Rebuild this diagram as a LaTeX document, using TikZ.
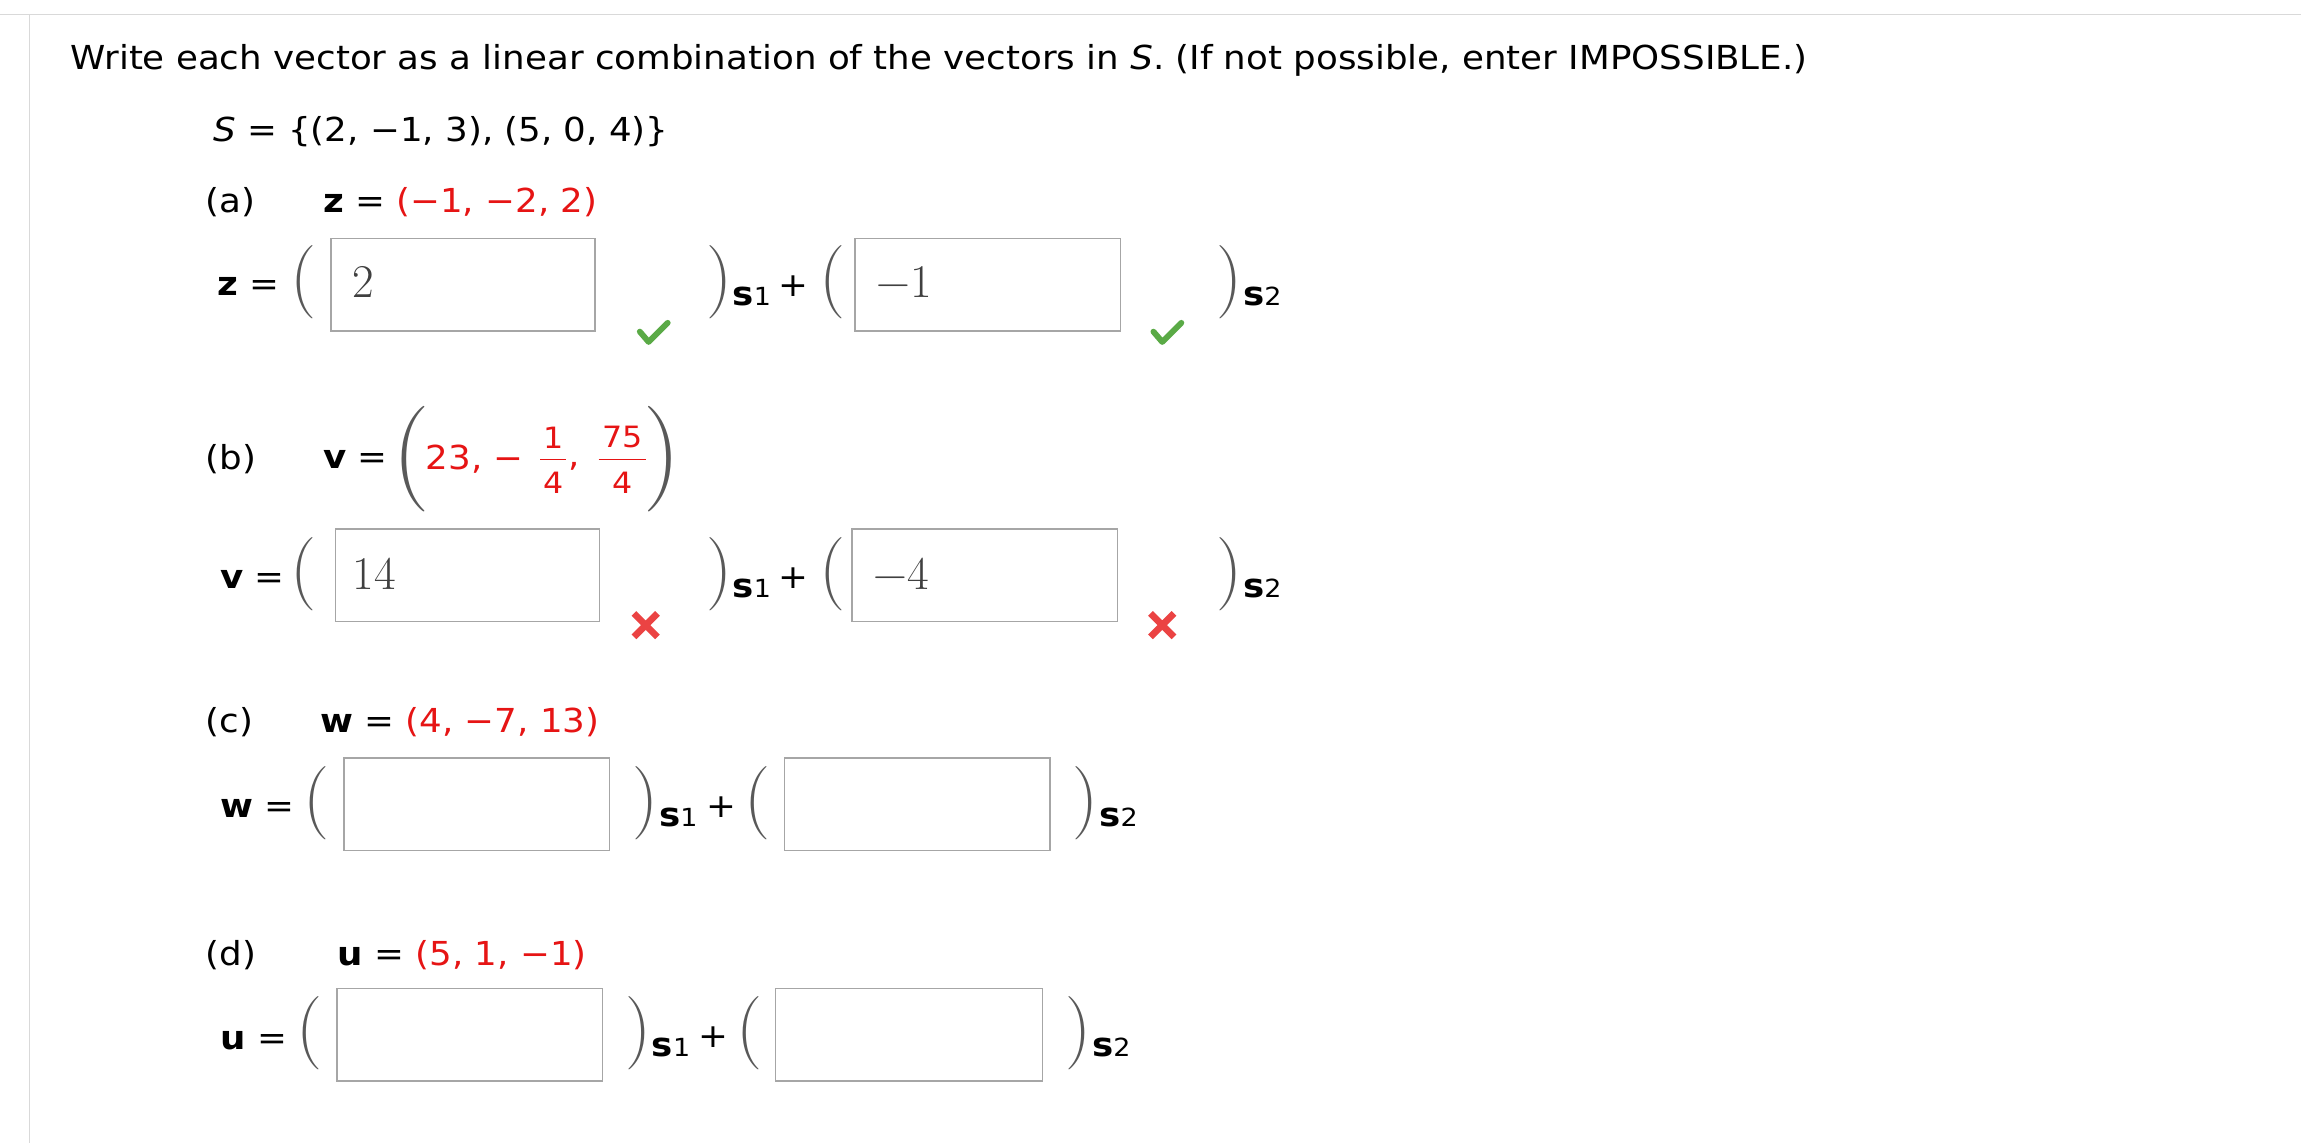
\documentclass[tikz,border=0pt]{standalone}
\usepackage{fontspec}
\setmainfont{DejaVu Sans}[FakeStretch=1.08]
\newfontfamily\numf{Latin Modern Roman}
\definecolor{ansred}{RGB}{230,20,20}
\definecolor{okgreen}{RGB}{90,170,70}
\begin{document}
\begin{tikzpicture}[x=1pt,y=-1pt,
  txt/.style={anchor=west,inner sep=0pt,font=\fontsize{22.5}{26}\selectfont},
  red/.style={txt,text=ansred},
  ansbox/.style={draw=gray!70,line width=1pt,anchor=north west,inner sep=0pt},
  val/.style={anchor=west,inner sep=0pt,font=\numf\fontsize{32}{36}\selectfont,text=black!75},
  bigp/.style={anchor=center,inner sep=0pt,font=\numf\fontsize{50}{54}\selectfont,text=black!65}]
\useasboundingbox (0,0) rectangle (1568,779);
\fill[white] (0,0) rectangle (1568,779);
\draw[gray!30,line width=1pt] (0,10) -- (1568,10);
\draw[gray!30,line width=1pt] (20,10) -- (20,779);
\node[txt] (title) at (48,41) {Write each vector as a linear combination of the vectors in \textit{S}. (If not possible, enter IMPOSSIBLE.)};
\node[txt] (S) at (145,90) {\textit{S} = \{(2, \textminus1, 3), (5, 0, 4)\}};
% (a)
\node[txt] (la) at (140,138) {(a)};
\node[txt] (za) at (220,138) {\textbf{z} = \textcolor{ansred}{(\textminus1, \textminus2, 2)}};
\node[txt] (za2) at (148,195) {\textbf{z} =};
\node[bigp] (pa1) at (207,192) {(};
\node[ansbox,minimum width=180pt,minimum height=63pt] (ba1) at (225,162) {};
\node[val] at (240,192) {2};
\node[bigp] (pa2) at (490,192) {)};
\node[txt] at (499,202) {\textbf{s}{\fontsize{17}{20}\selectfont 1}};
\node[txt] at (530,195) {+};
\node[bigp] (pa3) at (567,192) {(};
\node[ansbox,minimum width=181pt,minimum height=63pt] (ba2) at (582,162) {};
\node[val] at (597,192) {\textminus1};
\node[bigp] (pa4) at (838,192) {)};
\node[txt] at (847,202) {\textbf{s}{\fontsize{17}{20}\selectfont 2}};
\foreach \cx in {445,795}{
  \draw[okgreen,line width=4pt,line cap=round,line join=round] (\cx-9,226) -- (\cx-3,233) -- (\cx+10,220);}
% (b)
\node[txt] (lb) at (140,313) {(b)};
\node[txt] (vb) at (220,313) {\textbf{v} =};
\node[bigp,font=\numf\fontsize{72}{76}\selectfont] at (280,313) {(};
\node[red] at (290,313) {23, \textminus};
\node[red,anchor=center,font=\fontsize{20}{23}\selectfont] at (377,298) {1};
\draw[ansred,line width=1pt] (368,313) -- (386,313);
\node[red,anchor=center,font=\fontsize{20}{23}\selectfont] at (377,329) {4};
\node[red] at (387,318) {,};
\node[red,anchor=center,font=\fontsize{20}{23}\selectfont] at (424,298) {75};
\draw[ansred,line width=1pt] (408,313) -- (440,313);
\node[red,anchor=center,font=\fontsize{20}{23}\selectfont] at (424,329) {4};
\node[bigp,font=\numf\fontsize{72}{76}\selectfont] at (451,313) {)};
\node[txt] (vb2) at (150,395) {\textbf{v} =};
\node[bigp] at (207,391) {(};
\node[ansbox,minimum width=180pt,minimum height=63pt] (bb1) at (228,360) {};
\node[val] at (240,391) {14};
\node[bigp] at (490,391) {)};
\node[txt] at (499,401) {\textbf{s}{\fontsize{17}{20}\selectfont 1}};
\node[txt] at (530,394) {+};
\node[bigp] at (567,391) {(};
\node[ansbox,minimum width=181pt,minimum height=63pt] (bb2) at (580,360) {};
\node[val] at (595,391) {\textminus4};
\node[bigp] at (838,391) {)};
\node[txt] at (847,401) {\textbf{s}{\fontsize{17}{20}\selectfont 2}};
\foreach \cx in {440,792}{
  \draw[ansred!80,line width=4.5pt] (\cx-8,418) -- (\cx+8,434) (\cx-8,434) -- (\cx+8,418);}
% (c)
\node[txt] (lc) at (140,492) {(c)};
\node[txt] (wc) at (218,492) {\textbf{w} = \textcolor{ansred}{(4, \textminus7, 13)}};
\node[txt] at (150,551) {\textbf{w} =};
\node[bigp] at (216,547) {(};
\node[ansbox,minimum width=181pt,minimum height=63pt] (bc1) at (234,516) {};
\node[bigp] at (440,547) {)};
\node[txt] at (449,557) {\textbf{s}{\fontsize{17}{20}\selectfont 1}};
\node[txt] at (481,550) {+};
\node[bigp] at (516,547) {(};
\node[ansbox,minimum width=181pt,minimum height=63pt] (bc2) at (534,516) {};
\node[bigp] at (740,547) {)};
\node[txt] at (749,557) {\textbf{s}{\fontsize{17}{20}\selectfont 2}};
% (d)
\node[txt] (ld) at (140,651) {(d)};
\node[txt] (ud) at (230,651) {\textbf{u} = \textcolor{ansred}{(5, 1, \textminus1)}};
\node[txt] at (150,709) {\textbf{u} =};
\node[bigp] at (211,704) {(};
\node[ansbox,minimum width=181pt,minimum height=63pt] (bd1) at (229,673) {};
\node[bigp] at (435,704) {)};
\node[txt] at (444,714) {\textbf{s}{\fontsize{17}{20}\selectfont 1}};
\node[txt] at (476,707) {+};
\node[bigp] at (511,704) {(};
\node[ansbox,minimum width=182pt,minimum height=63pt] (bd2) at (528,673) {};
\node[bigp] at (735,704) {)};
\node[txt] at (744,714) {\textbf{s}{\fontsize{17}{20}\selectfont 2}};
\end{tikzpicture}
\end{document}
